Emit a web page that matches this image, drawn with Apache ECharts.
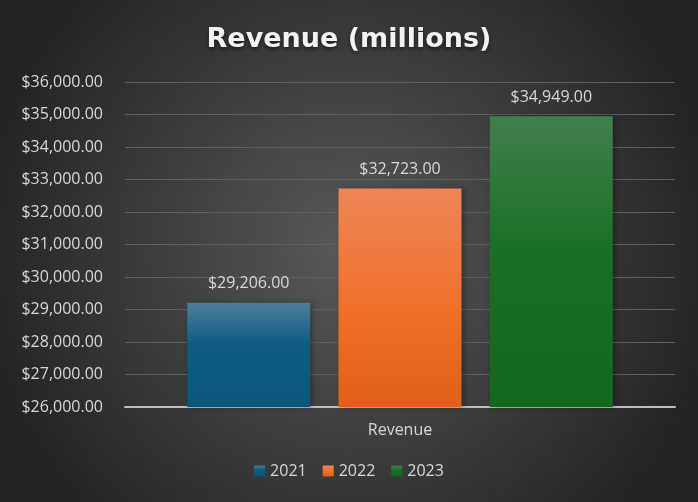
<!DOCTYPE html>
<html lang="en">
<head>
    <meta charset="UTF-8">
    <title>Revenue (millions)</title>
    <script src="https://cdn.jsdelivr.net/npm/echarts@6/dist/echarts.min.js"></script>
    <style>
        html, body { margin: 0; padding: 0; }
        #chart { width: 698px; height: 502px; }
    </style>
</head>
<body>
<div id="chart"></div>
<script>
    // data
    var categories = ['Revenue'];
    var seriesNames = ['2021', '2022', '2023'];
    var values2021 = [29206];
    var values2022 = [32723];
    var values2023 = [34949];
    var yMin = 26000, yMax = 36000, yStep = 1000;

    var font = 'Open Sans';
    // top / middle / bottom shade of each bar
    var colors = [
        ['#4b7d9d', '#0e5c82', '#0b577c'],
        ['#ee8658', '#f07029', '#e05f19'],
        ['#417f4d', '#166f22', '#12691e']
    ];

    function money(v) {
        return '$' + v.toLocaleString('en-US', {minimumFractionDigits: 2, maximumFractionDigits: 2});
    }

    function grad(c, mid) {
        return new echarts.graphic.LinearGradient(0, 0, 0, 1, [
            {offset: 0, color: c[0]},
            {offset: mid, color: c[1]},
            {offset: 1, color: c[2]}
        ]);
    }

    var allValues = [values2021, values2022, values2023];
    var mids = [0.4, 0.55, 0.5];
    var series = seriesNames.map(function (name, i) {
        return {
            name: name,
            type: 'bar',
            data: allValues[i],
            barWidth: 123,
            barGap: '23%',
            itemStyle: {
                color: grad(colors[i], mids[i]),
                shadowColor: 'rgba(0,0,0,0.35)',
                shadowBlur: 6,
                shadowOffsetX: 2
            },
            label: {
                show: true,
                position: 'top',
                distance: 11,
                color: '#d9d9d9',
                fontFamily: font,
                fontSize: 16,
                formatter: function (p) { return money(p.value); }
            }
        };
    });

    var myChart = echarts.init(document.getElementById('chart'));
    var option = {
        backgroundColor: new echarts.graphic.RadialGradient(0.5, 0.5, 0.75, [
            {offset: 0, color: '#595959'},
            {offset: 1, color: '#232323'}
        ]),
        title: {
            text: 'Revenue (millions)',
            left: 'center',
            top: 21,
            textStyle: {
                color: '#f2f2f2',
                fontFamily: 'DejaVu Sans',
                fontWeight: 'bold',
                fontSize: 27,
                textShadowColor: 'rgba(0,0,0,0.6)',
                textShadowBlur: 4,
                textShadowOffsetY: 2
            }
        },
        legend: {
            data: seriesNames,
            bottom: 18,
            left: 'center',
            itemWidth: 11,
            itemHeight: 11,
            itemGap: 16,
            icon: 'rect',
            textStyle: {color: '#d9d9d9', fontFamily: font, fontSize: 16}
        },
        grid: {left: 125, right: 23, top: 82, bottom: 95},
        xAxis: {
            type: 'category',
            data: categories,
            axisLine: {lineStyle: {color: '#bfbfbf', width: 2}},
            axisTick: {show: false},
            axisLabel: {color: '#d9d9d9', fontFamily: font, fontSize: 16, margin: 15}
        },
        yAxis: {
            type: 'value',
            min: yMin,
            max: yMax,
            interval: yStep,
            axisLine: {show: false},
            axisTick: {show: false},
            splitLine: {lineStyle: {color: '#606060', width: 1}},
            axisLabel: {
                color: '#d9d9d9',
                fontFamily: font,
                fontSize: 16,
                margin: 22,
                formatter: money
            }
        },
        series: series
    };
    myChart.setOption(option);
</script>
</body>
</html>
